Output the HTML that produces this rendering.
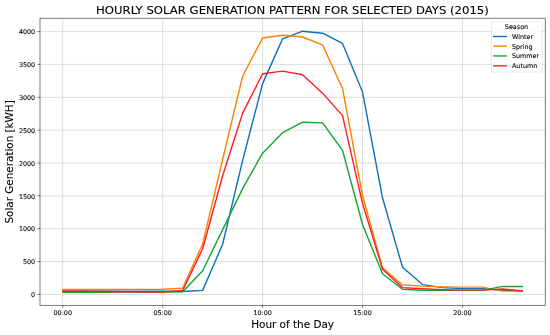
<!DOCTYPE html>
<html><head><meta charset="utf-8"><title>Hourly Solar Generation Pattern</title>
<style>
html,body{margin:0;padding:0;background:#fff;}
body{width:550px;height:335px;overflow:hidden;}
svg{display:block;}
text{font-family:"DejaVu Sans","Liberation Sans",sans-serif;fill:#000;stroke:#000;stroke-width:0.1px;}
</style></head><body>
<svg width="550" height="335" viewBox="0 0 550 335">
<rect width="550" height="335" fill="#fff"/>
<g stroke="#c8c8c8" stroke-width="0.6">
<line x1="62.75" y1="18.25" x2="62.75" y2="305.35"/>
<line x1="162.68" y1="18.25" x2="162.68" y2="305.35"/>
<line x1="262.60" y1="18.25" x2="262.60" y2="305.35"/>
<line x1="362.52" y1="18.25" x2="362.52" y2="305.35"/>
<line x1="462.45" y1="18.25" x2="462.45" y2="305.35"/>
<line x1="40.0" y1="294.45" x2="545.25" y2="294.45"/>
<line x1="40.0" y1="261.59" x2="545.25" y2="261.59"/>
<line x1="40.0" y1="228.73" x2="545.25" y2="228.73"/>
<line x1="40.0" y1="195.87" x2="545.25" y2="195.87"/>
<line x1="40.0" y1="163.01" x2="545.25" y2="163.01"/>
<line x1="40.0" y1="130.15" x2="545.25" y2="130.15"/>
<line x1="40.0" y1="97.29" x2="545.25" y2="97.29"/>
<line x1="40.0" y1="64.43" x2="545.25" y2="64.43"/>
<line x1="40.0" y1="31.57" x2="545.25" y2="31.57"/>
</g>
<polyline points="62.75,291.43 82.73,291.43 102.72,291.30 122.70,291.23 142.69,291.23 162.68,291.30 182.66,291.43 202.64,290.38 222.63,244.24 242.62,160.38 262.60,83.62 282.58,38.86 302.57,31.18 322.56,33.21 342.54,43.47 362.52,92.03 382.51,197.78 402.50,267.18 422.48,284.59 442.46,287.62 462.45,288.60 482.44,288.60 502.42,290.24 522.40,290.90" fill="none" stroke="#0a73bb" stroke-width="1.4" stroke-linejoin="round" stroke-linecap="square"/>
<polyline points="62.75,289.39 82.73,289.39 102.72,289.46 122.70,289.52 142.69,289.52 162.68,289.26 182.66,288.08 202.64,244.04 222.63,159.40 242.62,76.26 262.60,37.94 282.58,35.25 302.57,37.02 322.56,44.91 342.54,88.55 362.52,195.48 382.51,267.83 402.50,284.92 422.48,286.17 442.46,286.83 462.45,287.09 482.44,287.09 502.42,291.16 522.40,291.16" fill="none" stroke="#ff7f00" stroke-width="1.4" stroke-linejoin="round" stroke-linecap="square"/>
<polyline points="62.75,292.28 82.73,292.28 102.72,292.22 122.70,292.02 142.69,291.95 162.68,291.95 182.66,291.82 202.64,270.73 222.63,229.58 242.62,188.58 262.60,153.15 282.58,132.71 302.57,122.20 322.56,122.86 342.54,150.39 362.52,224.52 382.51,273.75 402.50,289.19 422.48,290.24 442.46,290.38 462.45,290.38 482.44,290.38 502.42,286.43 522.40,286.43" fill="none" stroke="#14a431" stroke-width="1.4" stroke-linejoin="round" stroke-linecap="square"/>
<polyline points="62.75,290.97 82.73,291.03 102.72,291.43 122.70,291.82 142.69,291.95 162.68,291.95 182.66,290.51 202.64,248.77 222.63,175.76 242.62,113.13 262.60,73.76 282.58,71.13 302.57,74.75 322.56,93.15 342.54,115.63 362.52,203.36 382.51,269.15 402.50,287.62 422.48,288.80 442.46,289.59 462.45,290.11 482.44,290.11 502.42,288.93 522.40,290.90" fill="none" stroke="#ff1c26" stroke-width="1.4" stroke-linejoin="round" stroke-linecap="square"/>
<rect x="40.0" y="18.25" width="505.25" height="287.10" fill="none" stroke="#505050" stroke-width="0.75"/>
<g stroke="#222" stroke-width="0.6">
<line x1="62.75" y1="305.35" x2="62.75" y2="307.75"/>
<line x1="162.68" y1="305.35" x2="162.68" y2="307.75"/>
<line x1="262.60" y1="305.35" x2="262.60" y2="307.75"/>
<line x1="362.52" y1="305.35" x2="362.52" y2="307.75"/>
<line x1="462.45" y1="305.35" x2="462.45" y2="307.75"/>
<line x1="37.4" y1="294.45" x2="40.0" y2="294.45"/>
<line x1="37.4" y1="261.59" x2="40.0" y2="261.59"/>
<line x1="37.4" y1="228.73" x2="40.0" y2="228.73"/>
<line x1="37.4" y1="195.87" x2="40.0" y2="195.87"/>
<line x1="37.4" y1="163.01" x2="40.0" y2="163.01"/>
<line x1="37.4" y1="130.15" x2="40.0" y2="130.15"/>
<line x1="37.4" y1="97.29" x2="40.0" y2="97.29"/>
<line x1="37.4" y1="64.43" x2="40.0" y2="64.43"/>
<line x1="37.4" y1="31.57" x2="40.0" y2="31.57"/>
</g>
<g font-size="6.4">
<text x="62.75" y="314.9" text-anchor="middle">00:00</text>
<text x="162.68" y="314.9" text-anchor="middle">05:00</text>
<text x="262.60" y="314.9" text-anchor="middle">10:00</text>
<text x="362.52" y="314.9" text-anchor="middle">15:00</text>
<text x="462.45" y="314.9" text-anchor="middle">20:00</text>
<text x="35.2" y="297.20" text-anchor="end">0</text>
<text x="35.2" y="264.34" text-anchor="end">500</text>
<text x="35.2" y="231.48" text-anchor="end">1000</text>
<text x="35.2" y="198.62" text-anchor="end">1500</text>
<text x="35.2" y="165.76" text-anchor="end">2000</text>
<text x="35.2" y="132.90" text-anchor="end">2500</text>
<text x="35.2" y="100.04" text-anchor="end">3000</text>
<text x="35.2" y="67.18" text-anchor="end">3500</text>
<text x="35.2" y="34.32" text-anchor="end">4000</text>
</g>
<text transform="translate(292.45,13.9) scale(1.0622,1)" font-size="11" text-anchor="middle">HOURLY SOLAR GENERATION PATTERN FOR SELECTED DAYS (2015)</text>
<text x="292.62" y="327.8" font-size="10.44" text-anchor="middle">Hour of the Day</text>
<text transform="translate(13.2,161.9) rotate(-90)" font-size="10.4" text-anchor="middle">Solar Generation [kWH]</text>
<rect x="491.4" y="21.4" width="50.8" height="50.8" rx="1" fill="#fff" fill-opacity="0.8" stroke="#d4d4d4" stroke-width="0.5"/>
<text x="516.5" y="29.3" font-size="6.45" text-anchor="middle">Season</text>
<line x1="493.1" y1="36.50" x2="506.9" y2="36.50" stroke="#0a73bb" stroke-width="1.4"/>
<text x="512.0" y="39.00" font-size="6.4">Winter</text>
<line x1="493.1" y1="46.15" x2="506.9" y2="46.15" stroke="#ff7f00" stroke-width="1.4"/>
<text x="512.0" y="48.65" font-size="6.4">Spring</text>
<line x1="493.1" y1="55.95" x2="506.9" y2="55.95" stroke="#14a431" stroke-width="1.4"/>
<text x="512.0" y="58.45" font-size="6.4">Summer</text>
<line x1="493.1" y1="65.85" x2="506.9" y2="65.85" stroke="#ff1c26" stroke-width="1.4"/>
<text x="512.0" y="68.35" font-size="6.4">Autumn</text>
</svg>
</body></html>
